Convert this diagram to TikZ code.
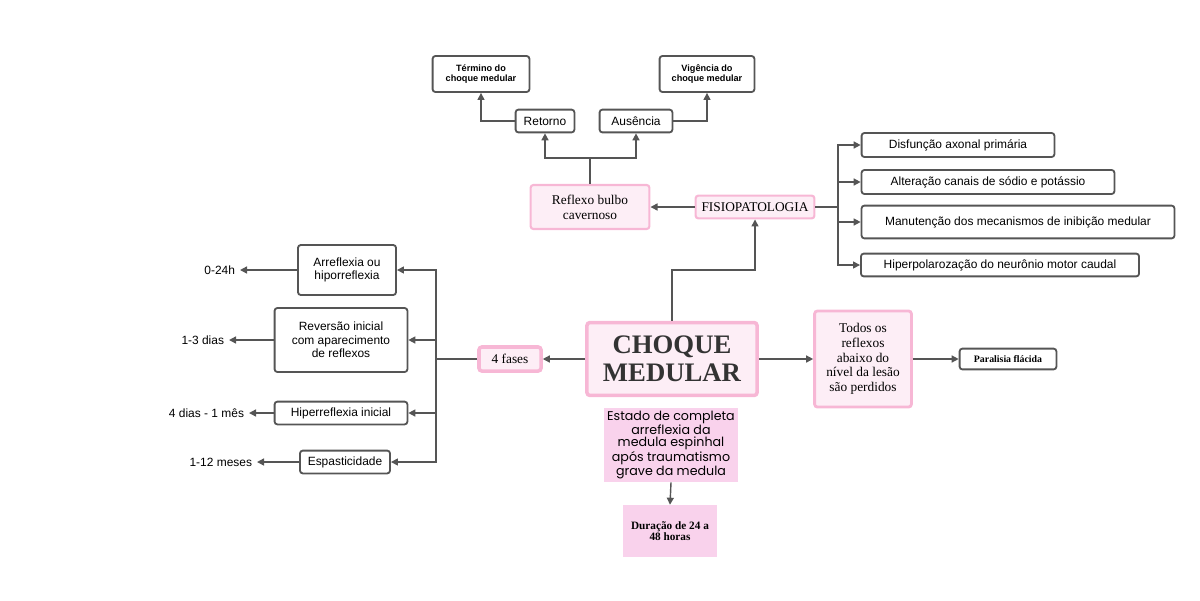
\documentclass[tikz,border=0pt]{standalone}
\usepackage{fontspec}
\setmainfont{Liberation Serif}
\newfontfamily\sansf{Liberation Sans}
\newfontfamily\handf{Poppins}
\usetikzlibrary{arrows.meta}
\definecolor{dk}{HTML}{555555}
\definecolor{pk}{HTML}{F7B7D5}
\definecolor{pkf}{HTML}{FDEEF6}
\definecolor{st}{HTML}{F9D2EC}
\begin{document}
\begin{tikzpicture}[x=0.025cm,y=-0.025cm,
 gb/.style={draw=dk,line width=1.3pt,rounded corners=2pt,fill=white,align=center,font=\sansf\fontsize{8.5}{9.5}\selectfont,inner sep=2pt},
 sb/.style={gb,font=\sansf\bfseries\fontsize{6.5}{7.5}\selectfont},
 pb/.style={draw=pk,line width=1.5pt,rounded corners=2pt,fill=pkf,align=center,font=\fontsize{9.5}{10.5}\selectfont,inner sep=2pt},
 sn/.style={fill=st,align=center,inner sep=2pt},
 ar/.style={draw=dk,line width=1pt,-{Triangle[length=5pt,width=5pt]}},
 ln/.style={draw=dk,line width=1pt},
 lb/.style={font=\sansf\fontsize{8.5}{10}\selectfont}]
\useasboundingbox (0,0) rectangle (1200,600);
\node[sb,minimum width=2.42cm,minimum height=0.9cm] (term) at (481,74) {Término do\\choque medular};
\node[sb,minimum width=2.37cm,minimum height=0.9cm] (vig) at (707,74) {Vigência do\\choque medular};
\node[gb,minimum width=1.47cm,minimum height=0.57cm] (ret) at (545,121) {Retorno};
\node[gb,minimum width=1.82cm,minimum height=0.57cm] (aus) at (636,121) {Ausência};
\node[pb,minimum width=2.97cm,minimum height=1.1cm] (refl) at (590,207) {Reflexo bulbo\\cavernoso};
\node[pb,minimum width=2.97cm,minimum height=0.57cm] (fis) at (755,207) {FISIOPATOLOGIA};
\node[gb,minimum width=4.82cm,minimum height=0.6cm] (d1) at (958,145) {Disfunção axonal primária};
\node[gb,minimum width=6.32cm,minimum height=0.6cm] (d2) at (988,182) {Alteração canais de sódio e potássio};
\node[gb,minimum width=7.82cm,minimum height=0.82cm] (d3) at (1018,222) {Manutenção dos mecanismos de inibição medular};
\node[gb,minimum width=6.95cm,minimum height=0.57cm] (d4) at (1000,265) {Hiperpolarozação do neurônio motor caudal};
\node[pb,line width=2.5pt,minimum width=4.25cm,minimum height=1.82cm,font=\bfseries\fontsize{19}{20}\selectfont,text=black!80] (cm) at (672,359) {CHOQUE\\MEDULAR};
\node[pb,line width=2.5pt,minimum width=1.55cm,minimum height=0.6cm] (f4) at (510,359) {4 fases};
\node[pb,line width=2pt,minimum width=2.42cm,minimum height=2.4cm] (tod) at (863,359) {Todos os\\reflexos\\abaixo do\\nível da lesão\\são perdidos};
\node[gb,font=\bfseries\fontsize{7}{8}\selectfont,minimum width=2.42cm,minimum height=0.52cm] (par) at (1008,359) {Paralisia flácida};
\node[sn,minimum width=3.32cm,minimum height=1.85cm,font=\handf\fontsize{9}{8.5}\selectfont] (est) at (671,445) {Estado de completa\\arreflexia da\\medula espinhal\\após traumatismo\\grave da medula};
\node[sn,minimum width=2.37cm,minimum height=1.3cm,font=\bfseries\fontsize{8}{7.5}\selectfont] (dur) at (670,531) {Duração de 24 a\\48 horas};
\node[gb,minimum width=2.45cm,minimum height=1.25cm] (a1) at (347,270) {Arreflexia ou\\hiporreflexia};
\node[gb,minimum width=3.32cm,minimum height=1.6cm] (a2) at (341,340) {Reversão inicial\\com aparecimento\\de reflexos};
\node[gb,minimum width=3.32cm,minimum height=0.57cm] (a3) at (341,413) {Hiperreflexia inicial};
\node[gb,minimum width=2.25cm,minimum height=0.57cm] (a4) at (345,462) {Espasticidade};
\node[lb,anchor=east] (t1) at (240,270) {0-24h};
\node[lb,anchor=east] (t2) at (229,340) {1-3 dias};
\node[lb,anchor=east] (t3) at (249,413) {4 dias - 1 mês};
\node[lb,anchor=east] (t4) at (257,462) {1-12 meses};
\coordinate (rj) at (590,158);
\draw[ln] (refl.north) -- (rj);
\draw[ar] (rj) -| (ret.south);
\draw[ar] (rj) -| (aus.south);
\draw[ar] (ret.west) -| (term.south);
\draw[ar] (aus.east) -| (vig.south);
\draw[ar] (fis.west) -- (refl.east);
\coordinate (fj) at (838,207);
\draw[ln] (fis.east) -- (fj);
\foreach \n in {d1,d2,d3,d4} \draw[ar] (fj) |- (\n.west);
\coordinate (cj) at (672,270);
\draw[ar] (cm.north) -- (cj) -| (fis.south);
\draw[ar] (cm.west) -- (f4.east);
\draw[ar] (cm.east) -- (tod.west);
\draw[ar] (tod.east) -- (par.west);
\draw[ar] (est.south) -- (dur.north);
\coordinate (lj) at (436,359);
\draw[ln] (f4.west) -- (lj);
\foreach \n in {a1,a2,a3,a4} \draw[ar] (lj) |- (\n.east);
\draw[ar] (a1.west) -- (t1.east);
\draw[ar] (a2.west) -- (t2.east);
\draw[ar] (a3.west) -- (t3.east);
\draw[ar] (a4.west) -- (t4.east);
\end{tikzpicture}
\end{document}
